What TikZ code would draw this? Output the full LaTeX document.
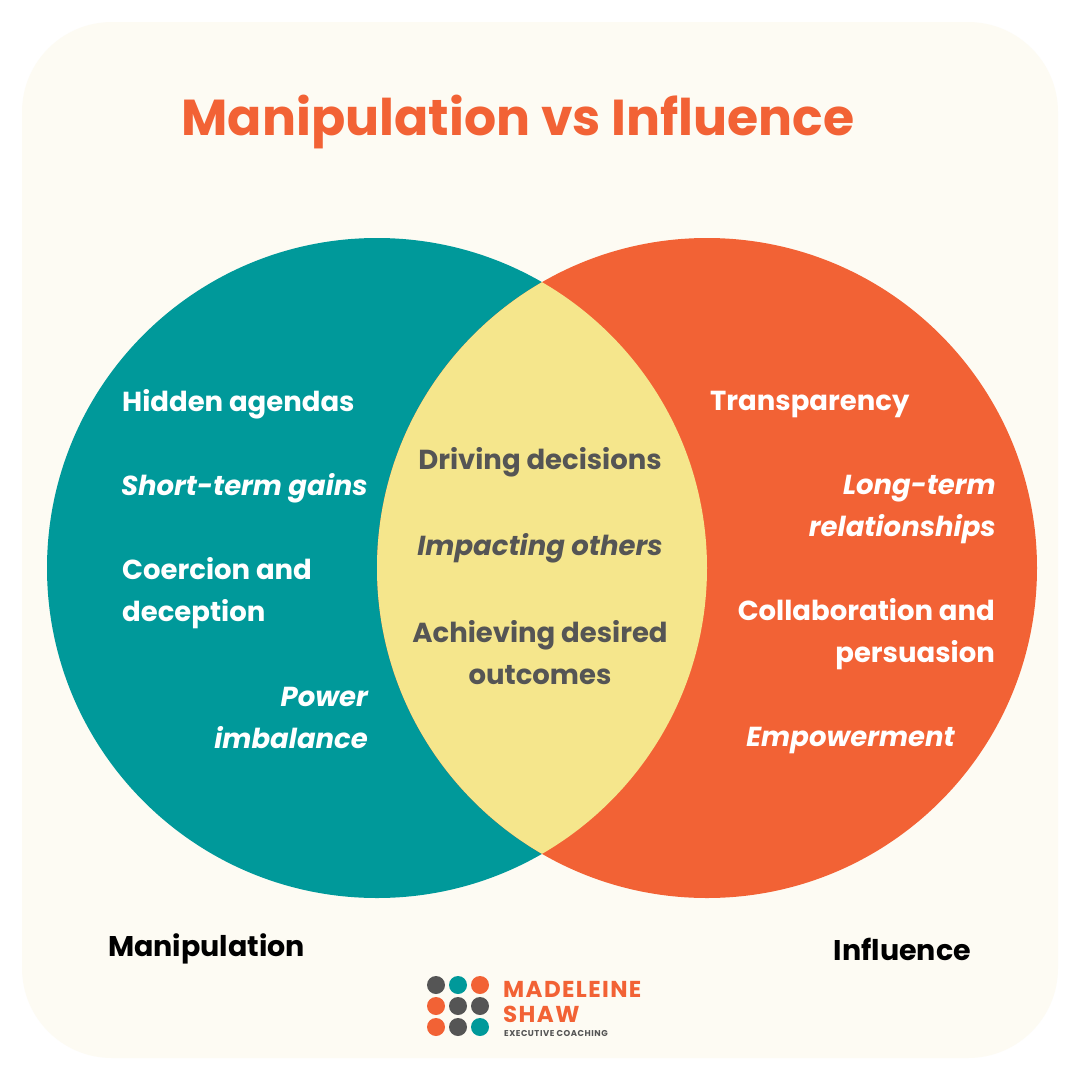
\documentclass[tikz,border=0pt]{standalone}
\usepackage{fontspec}
\setmainfont{Poppins}
\newfontfamily\logofont[LetterSpace=6]{Poppins}
\definecolor{teal}{HTML}{00999A}
\definecolor{coral}{HTML}{F26235}
\definecolor{lemon}{HTML}{F5E68C}
\definecolor{cream}{HTML}{FDFBF3}
\definecolor{slate}{HTML}{555555}
\begin{document}
\begin{tikzpicture}[x=1pt,y=-1pt,
item/.style={text=white, font=\fontsize{27.5}{42}\selectfont\bfseries, inner sep=0pt},
mid/.style={text=slate, font=\fontsize{27.5}{42}\selectfont\bfseries, inner sep=0pt, align=center},
side/.style={text=black, font=\fontsize{28.5}{30}\selectfont\bfseries, inner sep=0pt},
dot/.style={circle, minimum size=18, inner sep=0pt}
]
\useasboundingbox (0,0) rectangle (1080,1080);
\fill[white] (0,0) rectangle (1080,1080);
\fill[cream, rounded corners=90] (22,22) rectangle (1058,1058);
%Circles
\fill[teal] (377,568) circle (330);
\fill[coral] (707,568) circle (330);
\begin{scope}
\clip (377,568) circle (330);
\fill[lemon] (707,568) circle (330);
\end{scope}
%Title
\node[text=coral, font=\fontsize{50.5}{52}\selectfont\bfseries, inner sep=0pt] (title) at (518,122) {Manipulation vs Influence};
%Left
\node[item, anchor=west] (hidden) at (122,404) {Hidden agendas};
\node[item, anchor=east] (short) at (368,488) {\itshape Short-term gains};
\node[item, anchor=west, align=left] (coercion) at (122,593) {Coercion and\\deception};
\node[item, anchor=east, align=right] (power) at (368,718) {\itshape Power\\\itshape imbalance};
%Middle
\node[mid] (driving) at (540,462) {Driving decisions};
\node[mid] (impact) at (540,548) {\itshape Impacting others};
\node[mid] (achieve) at (540,653) {Achieving desired\\outcomes};
%Right
\node[item, anchor=west] (transp) at (710,404) {Transparency};
\node[item, anchor=east, align=right] (long) at (996,509) {\itshape Long-term\\\itshape relationships};
\node[item, anchor=east, align=right] (collab) at (995,634) {Collaboration and\\persuasion};
\node[item, anchor=east] (empower) at (955,740) {\itshape Empowerment};
%Labels
\node[side, anchor=west] (manip) at (108,949) {Manipulation};
\node[side, anchor=east] (infl) at (971,949) {Influence};
%Logo
\foreach \c [count=\i from 0] in {slate,teal,coral,coral,slate,slate,coral,slate,teal}
  \node[dot, fill=\c] (d\i) at ({436+22*mod(\i,3)},{985+21*int(\i/3)}) {};
\node[text=coral, font=\logofont\fontsize{23}{24}\selectfont\bfseries, anchor=west, inner sep=0pt] (madel) at (503,989) {MADELEINE};
\node[text=coral, font=\logofont\fontsize{23}{24}\selectfont\bfseries, anchor=west, inner sep=0pt] (shaw) at (503,1014) {SHAW};
\node[text=slate, font=\logofont\fontsize{8.5}{10}\selectfont\bfseries, anchor=west, inner sep=0pt] (exec) at (504,1033) {EXECUTIVE COACHING};
\end{tikzpicture}
\end{document}
